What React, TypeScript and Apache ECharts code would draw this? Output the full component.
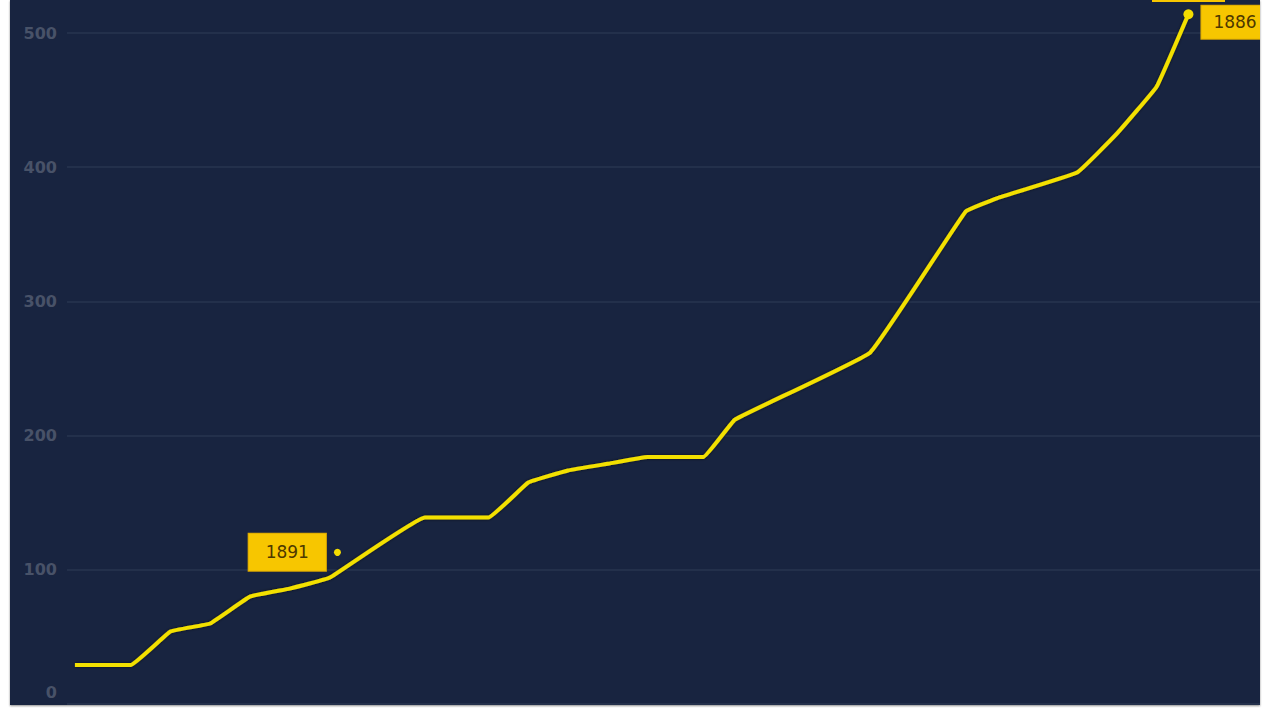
import React, { useEffect, useRef } from "react";
import * as echarts from "echarts";

const years = [1880, 1887, 1892, 1897, 1902, 1907, 1912, 1924, 1932, 1937, 1942, 1947, 1952, 1959, 1963, 1980, 1992, 1996, 2006, 2011, 2016, 2020];
const values = [29, 29, 54, 60, 80, 86, 94, 139, 139, 165, 174, 179, 184, 184, 212, 262, 367, 377, 396, 425, 460, 514];

const annoYears = [1913, 2020];
const annoValues = [113, 514];
const annoLabels = ["1891", "1886"];

const yTicks = [0, 100, 200, 300, 400, 500];

export default function App() {
  const ref = useRef<HTMLDivElement>(null);
  useEffect(() => {
    if (!ref.current) return;
    const chart = echarts.init(ref.current, undefined, { renderer: "svg" });
    const gold = "#f7c600";
    const labelText = "#4d3800";
    chart.setOption({
      animation: false,
      backgroundColor: "#182440",
      grid: { left: 57, right: 0, top: 33, height: 671, containLabel: false },
      xAxis: {
        type: "value",
        min: 1879,
        max: 2029,
        show: false,
      },
      yAxis: {
        type: "value",
        min: yTicks[0],
        max: yTicks[yTicks.length - 1],
        interval: 100,
        axisLine: { show: false },
        axisTick: { show: false },
        axisLabel: {
          color: "#485268",
          fontSize: 16,
          fontWeight: "bold",
          fontFamily: "DejaVu Sans",
          margin: 10,
          formatter: (v: number) => (v === 0 ? "{z|0}" : String(v)),
          rich: {
            z: {
              color: "#485268",
              fontSize: 16,
              fontWeight: "bold",
              fontFamily: "DejaVu Sans",
              padding: [0, 0, 24, 0],
            },
          },
        },
        splitLine: { lineStyle: { color: "#27354f", width: 1.5 } },
      },
      series: [
        {
          type: "line",
          data: years.map((y, i) => [y, values[i]]),
          smooth: 0.08,
          showSymbol: false,
          clip: false,
          lineStyle: {
            color: "#f3e000",
            width: 4,
            shadowColor: "rgba(0,0,0,0.6)",
            shadowBlur: 3,
          },
        },
        {
          type: "scatter",
          clip: false,
          z: 5,
          data: annoYears.map((y, i) => ({
            value: [y, annoValues[i]],
            symbolSize: i === 0 ? 7 : 10,
            label: i === 0
              ? { position: "left", distance: 8, padding: [10, 17] }
              : { position: "right", distance: 8, offset: [0, 8], padding: [8, 8, 8, 12] },
          })),
          itemStyle: { color: "#f3dc00", opacity: 1 },
          label: {
            show: true,
            formatter: (p: any) => annoLabels[p.dataIndex],
            backgroundColor: gold,
            borderColor: "#dba800",
            borderWidth: 1,
            color: labelText,
            fontSize: 17,
            fontWeight: 500,
            lineHeight: 17,
            fontFamily: "DejaVu Sans",
          },
        },
      ],
      graphic: [
        {
          type: "rect",
          shape: { x: 1142, y: -10, width: 73, height: 12 },
          style: { fill: gold },
        },
      ],
    });
    return () => chart.dispose();
  }, []);
  return (
    <div
      ref={ref}
      style={{
        position: "fixed",
        left: 10,
        top: 0,
        width: 1250,
        height: 705,
        overflow: "hidden",
        boxShadow: "0 1px 2px rgba(0,0,0,0.45)",
      }}
    />
  );
}
